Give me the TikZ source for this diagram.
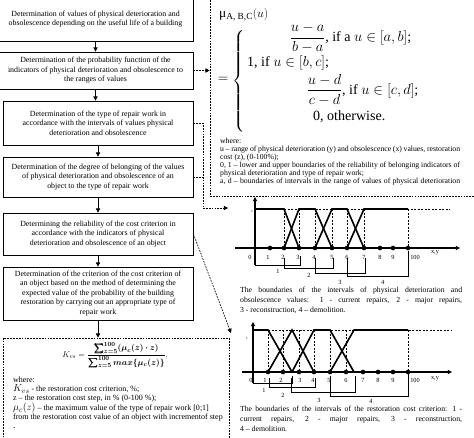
\documentclass[tikz,border=0pt]{standalone}
\usepackage{amsmath,amssymb,bm}
\usepackage{fontspec}
\setmainfont{Liberation Serif}
\usetikzlibrary{arrows.meta,positioning,calc}

\begin{document}
\begin{tikzpicture}[x=0.05cm,y=-0.05cm,>={Triangle[length=6pt,width=6pt]},
  stepbox/.style={draw,line width=1.1pt,align=center,inner sep=0pt,minimum width=9.5cm,font=\fontsize{11.2}{13.6}\selectfont},
  dline/.style={line width=0.9pt,dash pattern=on 2.5pt off 1.6pt},
  axis/.style={line width=1.5pt},
  mf/.style={line width=2.3pt},
  grid/.style={line width=0.8pt,dash pattern=on 3pt off 2pt},
  brk/.style={line width=0.8pt},
  lab/.style={font=\fontsize{9}{10}\selectfont,inner sep=0pt},
  fml/.style={anchor=west,inner sep=0pt,font=\fontsize{20}{24}\selectfont},
  note/.style={anchor=north west,inner sep=0pt,align=justify,font=\fontsize{11}{14.2}\selectfont}]
\useasboundingbox (0,0) rectangle (474,438);
\node[stepbox,minimum width=9.75cm,minimum height=2.2cm] (b1) at (95.5,19) {Determination of values of physical deterioration and\\obsolescence depending on the useful life of a building};
\node[stepbox,minimum width=9.75cm,minimum height=1.85cm] (b2) at (95.5,70.5) {Determination of the probability function of the\\indicators of physical deterioration and obsolescence to\\the ranges of values};
\node[stepbox,minimum height=2.2cm] (b3) at (98,123) {Determination of the type of repair work in\\accordance with the intervals of values physical\\deterioration and obsolescence};
\node[stepbox,minimum height=2.0cm] (b4) at (98,177) {Determination of the degree of belonging of the values\\of physical deterioration and obsolescence of an\\object to the type of repair work};
\node[stepbox,minimum height=2.1cm] (b5) at (98,234) {Determining the reliability of the cost criterion in\\accordance with the indicators of physical\\deterioration and obsolescence of an object};
\node[stepbox,minimum height=2.65cm] (b6) at (98,293.5) {Determination of the criterion of the cost criterion of\\an object based on the method of determining the\\expected value of the probability of the building\\restoration by carrying out an appropriate type of\\repair work};
\node[draw,dline,minimum width=11.3cm,minimum height=5.8cm] (kbox) at (116,396) {};
\node[draw,dline,minimum width=13.6cm,minimum height=10.1cm] (fbox) at (346,95) {};
\foreach \a/\b in {b1/b2,b2/b3,b3/b4,b4/b5,b5/b6,b6/kbox}
  \draw[->,line width=1.1pt] (\a.south) -- (\a.south |- \b.north);
\coordinate (j1) at (203,208);
\coordinate (c1in) at (228,208);
\coordinate (c2in) at (231,333);
\draw[dline,->] (b2.east) -- (b2.east -| fbox.west);
\draw[dline] (b3.east) -| (j1);
\draw[dline] (b4.east) -- (b4.east -| j1);
\draw[dline,->] (j1) -- (c1in);
\draw[dline,->] (b5.east) -- (c2in);
\node[anchor=west,inner sep=0pt,font=\fontsize{19}{19}\selectfont] (mu) at (219,15) {μ\textsubscript{A, B,C}$(u)$};
\node[inner sep=0pt,font=\fontsize{20}{20}\selectfont] (eq) at (223,80) {$=$};
\node[inner sep=0pt,font=\fontsize{20}{20}\selectfont] (br) at (239.5,82) {$\left\{\vrule height 68pt depth 68pt width 0pt\right.$};
\node[fml] (c1) at (290,38) {$\dfrac{u-a}{b-a}$, if a $u\in[a,b]$;};
\node[fml] (c2) at (247,63) {1, if $u\in[b,c]$;};
\node[fml] (c3) at (307,90) {$\dfrac{u-d}{c-d}$, if $u\in[c,d]$;};
\node[fml] (c4) at (313,117) {0, otherwise.};
\node[note,text width=12cm,font=\fontsize{11}{11.3}\selectfont] (fwhere) at (220,138) {where:\\u – range of physical deterioration (y) and obsolescence (x) values, restoration\linebreak cost (z), (0-100\%);\\0, 1 – lower and upper boundaries of the reliability of belonging indicators of\linebreak physical deterioration and type of repair work;\\\makebox[12cm][s]{a, d – boundaries of intervals in the range of values of physical deterioration}};
\draw[axis,->] (255,265) -- (255,197);
\draw[axis,->] (235,248) -- (460,248);
\draw[grid] (284,209) -- (450,209);
\foreach \x in {284,299,315,332,347,364,408} \draw[grid] (\x,209) -- (\x,248);
\draw[mf] (255,209) -- (284,209) -- (299,248);
\draw[mf] (284,248) -- (299,209) -- (315,209) -- (332,248);
\draw[mf] (315,248) -- (332,209) -- (347,209) -- (364,248);
\draw[mf] (347,248) -- (364,209) -- (408,209);
\foreach \x in {270,284,299,315,332,347,364,380,393,408} \fill (\x,248) circle[radius=3.3pt];
\foreach \x/\lbl in {250/0,268/1,283/2,298/3,314/4,332/5,347/6,364/7,380/8,393/9,415/100} \node[lab] at (\x,257) {\lbl};
\node[lab] at (435,253) {x,y};
\node[lab,font=\fontsize{5}{5}\selectfont] at (252,211) {1};
\draw[brk] (255,265) -- (300,265) -- (300,256);
\draw[brk] (284,258) -- (284,268) -- (333,268) -- (333,258);
\draw[brk] (315,258) -- (315,273) -- (365,273) -- (365,258);
\draw[brk] (347,258) -- (347,276) -- (408,276) -- (408,251);
\foreach \x/\y/\lbl in {278/271/1,309/275/2,340/282/3,383/282/4} \node[lab] at (\x,\y) {\lbl};
\node[note,text width=11.1cm] (cap1) at (240,287) {The boundaries of the intervals of physical deterioration and\linebreak obsolescence values: 1 - current repairs, 2 - major repairs,\linebreak 3 - reconstruction, 4 – demolition.};
\draw[axis,->] (253,383) -- (253,322);
\draw[axis,->] (242,372) -- (452,372);
\draw[grid] (268,330) -- (452,330);
\foreach \x in {268,283,299,314,330,346,408} \draw[grid] (\x,330) -- (\x,372);
\draw[mf] (253,330) -- (268,330) -- (292,372);
\draw[mf] (268,372) -- (292,330) -- (314,372);
\draw[mf] (292,372) -- (314,330) -- (330,330) -- (354,372);
\draw[mf] (330,372) -- (354,330) -- (408,330);
\foreach \x in {268,283,299,314,330,346,363,378,393,408} \fill (\x,372) circle[radius=3.3pt];
\foreach \x/\lbl in {251/0,265/1,281/2,300/3,313/4,329/5,346/6,363/7,378/8,393/9,415/100} \node[lab] at (\x,380) {\lbl};
\node[lab] at (435,379) {x,y};
\node[lab,font=\fontsize{5}{5}\selectfont] at (247,338) {1};
\draw[brk] (253,383) -- (292,383) -- (292,376);
\draw[brk] (269,378) -- (269,387) -- (315,387) -- (315,378);
\draw[brk] (291,378) -- (291,392) -- (355,392) -- (355,376);
\draw[brk] (330,376) -- (330,396) -- (408,396) -- (408,374);
\foreach \x/\y/\lbl in {264/390/1,283/395/2,319/400/3,371/401/4} \node[lab] at (\x,\y) {\lbl};
\node[note,text width=11.1cm] (cap2) at (240,406) {The boundaries of the intervals of the restoration cost criterion: 1 -\linebreak current repairs, 2 - major repairs, 3 - reconstruction,\linebreak 4 – demolition.};
\node[inner sep=0pt,font=\fontsize{13}{15}\selectfont] (kvs) at (115,355) {$K_{vs}=\dfrac{\bm{\sum_{z=5}^{100}(\mu_c(z)\cdot z)}}{\bm{\sum_{z=5}^{100}max\{\mu_c(z)\}}},$};
\node[anchor=north west,inner sep=0pt,align=left,font=\fontsize{11.4}{12.8}\selectfont] (kwhere) at (13,377) {where:\\{\fontsize{15}{15}\selectfont$K_{vs}$} - the restoration cost criterion, \%;\\z – the restoration cost step, in \% (0-100 \%);\\{\fontsize{15}{15}\selectfont$\mu_c(z)$} – the maximum value of the type of repair work [0;1]\\from the restoration cost value of an object with incrementof step\\{\fontsize{14}{14}\selectfont .}};
\end{tikzpicture}
\end{document}
